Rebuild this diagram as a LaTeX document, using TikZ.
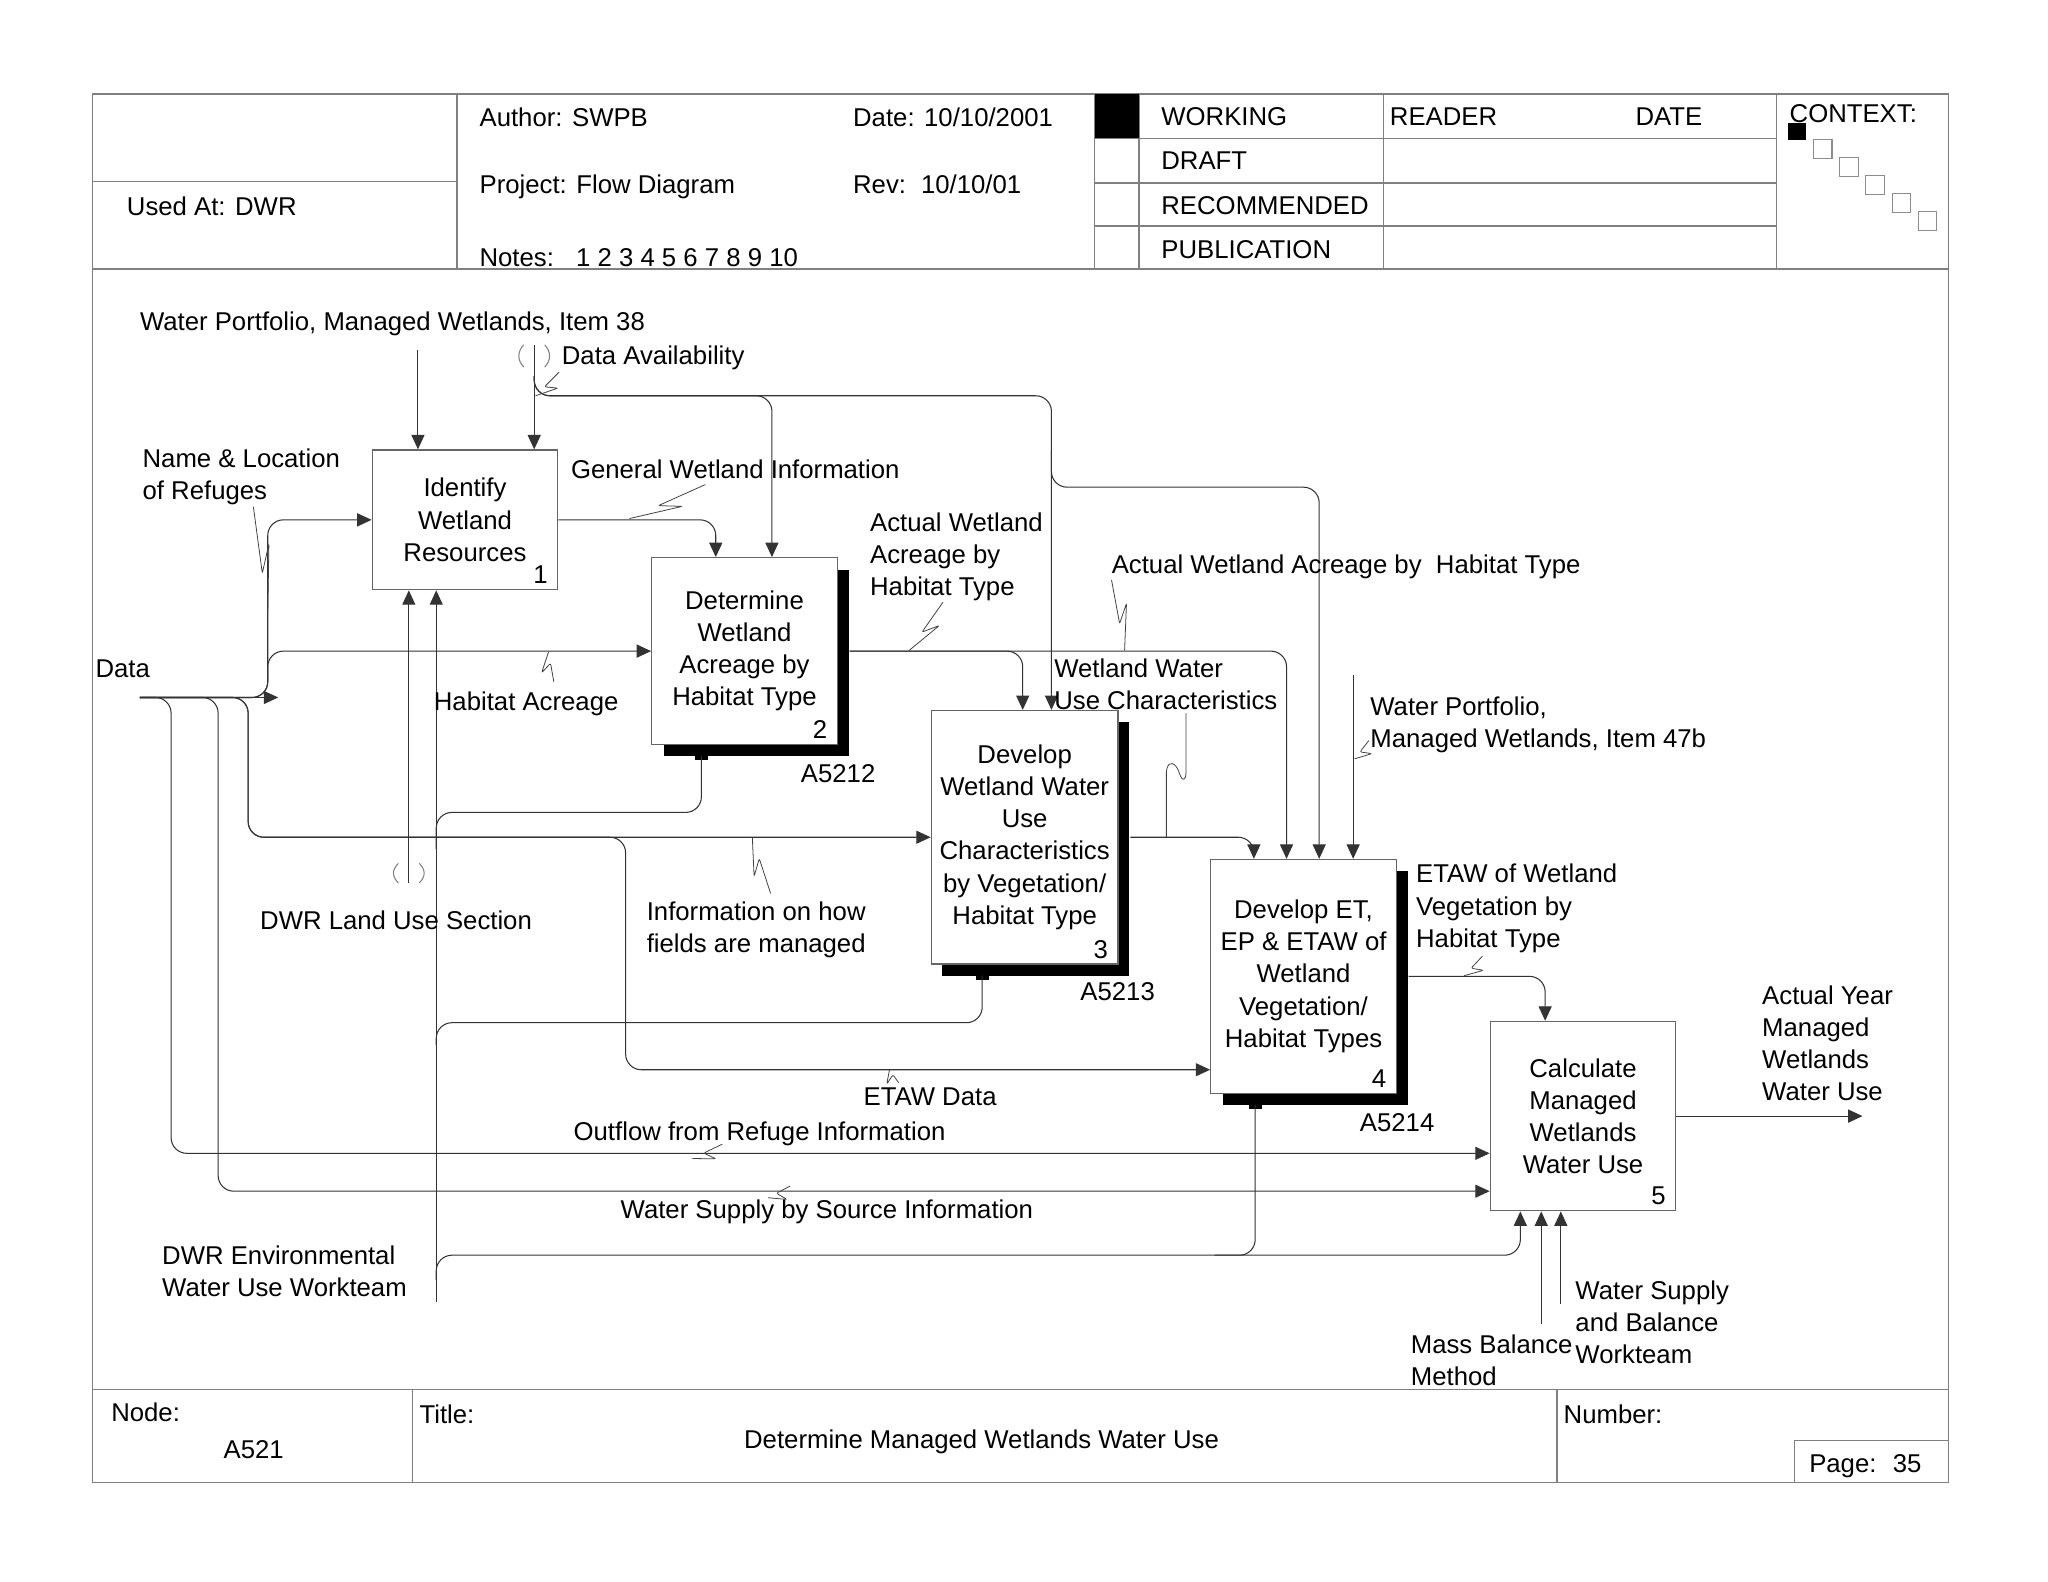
\documentclass[tikz,border=0pt]{standalone}
\usepackage{fontspec}
\setmainfont{Liberation Sans}
\usetikzlibrary{arrows.meta,calc}
\tikzset{
  every node/.style={font={\fontsize{19.7}{24.6}\selectfont}, inner sep=0pt},
  frm/.style={draw=black!50, line width=1pt},
  fn/.style={draw=black!60, line width=1pt, fill=white, minimum width=142pt, align=center},
  ln/.style={draw=black!80, line width=0.8pt, rounded corners=12pt},
  arr/.style={ln, -{Triangle[length=11pt,width=10pt]}},
  lb/.style={anchor=base west},
  ml/.style={anchor=north west, align=left},
  num/.style={anchor=base east},
  sq/.style={draw=black!75, line width=0.6pt, rounded corners=1.5pt},
  tun/.style={draw=black!50, line width=0.8pt},
  cbox/.style={draw=black!45, line width=0.8pt},
}
\newcommand\squig[2]{\draw[sq] (#1) -- ($(#1)!0.62!(#2)$) -- ($(#1)!0.36!(#2)!8pt!90:(#2)$) -- (#2);}
\begin{document}
\begin{tikzpicture}[x=1pt,y=-1pt]
\useasboundingbox (0,0) rectangle (1568,1211);
\fill[white] (0,0) rectangle (1568,1211);
% ---------- frame ----------
\draw[frm] (71,72) rectangle (1492,1135);
\draw[frm] (71,206) -- (1492,206);
\draw[frm] (71,139) -- (350,139);
\foreach \xx in {350,838,872,1059,1360} \draw[frm] (\xx,72) -- (\xx,206);
\foreach \yy in {106,140,173} \draw[frm] (838,\yy) -- (1360,\yy);
\fill (838,72) rectangle (872,106);
\fill (1368.8,94) rectangle (1383,107.4);
\foreach \i in {0,...,4} \draw[cbox] ({1388.6+20*\i},{107+13.7*\i}) rectangle ++(14,14.5);
\draw[frm] (71,1064) -- (1492,1064);
\draw[frm] (316,1064) -- (316,1135);
\draw[frm] (1192,1064) -- (1192,1135);
\draw[frm] (1374,1103) rectangle (1492,1135);
% header texts
\node[lb] (usedat) at (97,165) {Used At: DWR};
\node[lb] (author) at (367,97) {Author: SWPB};
\node[lb] (project) at (367,148) {Project: Flow Diagram};
\node[lb] (notes) at (367,204) {Notes:\hspace{17pt}1 2 3 4 5 6 7 8 9 10};
\node[lb] (date) at (653,97) {Date: 10/10/2001};
\node[lb] (rev) at (653,148) {Rev:\hspace{11.5pt}10/10/01};
\node[lb] (working) at (889,96) {WORKING};
\node[lb] (draft) at (889,130) {DRAFT};
\node[lb] (recom) at (889,164) {RECOMMENDED};
\node[lb] (publ) at (889,198) {PUBLICATION};
\node[lb] (reader) at (1064,96) {READER};
\node[lb] (rdate) at (1252,96) {DATE};
\node[lb] (context) at (1370,94) {CONTEXT:};
% footer texts
\node[lb] (nodel) at (85,1088) {Node:};
\node[lb] (nodev) at (171,1117) {A521};
\node[lb] (titlel) at (321,1090) {Title:};
\node[anchor=base] (titlev) at (751.5,1109) {Determine Managed Wetlands Water Use};
\node[lb] (numberl) at (1197,1090) {Number:};
\node[lb] (page) at (1385,1127) {Page:\hspace{12.5pt}35};
% ---------- shadows ----------
\fill (508,436.5) rectangle (650,579);
\fill (721.5,553) rectangle (864.5,747);
\fill (936,667) rectangle (1078,846);
\fill (532,579) rectangle (542,582);
\fill (747,747) rectangle (757,750);
\fill (956,846) rectangle (966,849);
% ---------- boxes ----------
\node[fn, minimum height=107pt] (b1) at (356,398) {Identify\\Wetland\\Resources};
\node[fn, minimum height=143pt] (b2) at (570,498.5) {Determine\\Wetland\\Acreage by\\Habitat Type};
\node[fn, minimum width=143pt, minimum height=194pt] (b3) at (784.5,641) {Develop\\Wetland Water\\Use\\Characteristics\\by Vegetation/\\Habitat Type};
\node[fn, minimum height=179pt] (b4) at (998,747.5) {Develop ET,\\EP \& ETAW of\\Wetland\\Vegetation/\\Habitat Types};
\node[fn, minimum height=145pt] (b5) at (1212,854.5) {Calculate\\Managed\\Wetlands\\Water Use};
\node[num] at ($(b1.south east)+(-8,-5)$) {1};
\node[num] at ($(b2.south east)+(-8,-5)$) {2};
\node[num] at ($(b3.south east)+(-8,-5)$) {3};
\node[num] at ($(b4.south east)+(-8,-5)$) {4};
\node[num] at ($(b5.south east)+(-8,-5)$) {5};
\node[lb] (r2) at (613,599) {A5212};
\node[lb] (r3) at (827,766) {A5213};
\node[lb] (r4) at (1041,866) {A5214};
% ---------- connectors ----------
\coordinate (wp38) at (320,268);
\draw[arr] (wp38) -- (wp38 |- b1.north);
\coordinate (da) at (409,264);
\draw[arr] (da) -- (da |- b1.north);
\coordinate (dab) at (409,288);
\draw[arr] (dab) |- (591,303) -- (591,0 |- b2.north);
\draw[arr] (dab) |- (805,303) -- (805,0 |- b3.north);
\draw[arr] (805,345) |- (1010,373) -- (1010,0 |- b4.north);
\draw[tun] (401,264) .. controls (396,269) and (396,276) .. (401,281);
\draw[tun] (417,264) .. controls (422,269) and (422,276) .. (417,281);
\draw[arr] (b1.east) -| (548,0 |- b2.north);
\coordinate (o2) at ($(b2.east)+(9,0)$);
\draw[arr] (o2) -| (783,0 |- b3.north);
\draw[arr] (o2) -| (985,0 |- b4.north);
\coordinate (o3) at ($(b3.east)+(9,0)$);
\draw[arr] (o3) -| (960,0 |- b4.north);
\coordinate (o4) at ($(b4.east)+(9,0)$);
\draw[arr] (o4) -| (1183,0 |- b5.north);
\coordinate (out5) at (1426,854.5);
\draw[arr] (b5.east) -- (out5 |- b5.east);
\coordinate (wp47) at (1036,517);
\draw[arr] (wp47) -- (wp47 |- b4.north);
% data inputs
\coordinate (din) at (107,534);
\draw[arr] (din) -- (213,534);
\draw[arr] (din) -| (205,398) -- (b1.west);
\draw[arr] (din) -| (205,498.5) -- (b2.west);
\draw[arr] (din) -| (131,883) -- (131,883 -| b5.west);
\draw[arr] (din) -| (167,912) -- (167,912 -| b5.west);
\draw[arr] (din) -| (190,641) -- (b3.west);
\draw[arr] (din) -| (190,641) -| (479,819) -- (479,819 -| b4.west);
% mechanisms
\coordinate (env) at (334,997);
\draw[arr] (env) -- (env |- b1.south);
\draw[ln] (334,650) |- (537,622) -- (537,579);
\draw[ln] (334,800) |- (752,783) -- (752,747);
\draw[arr] (334,980) |- (1164,961) -- (1164,0 |- b5.south);
\draw[ln] (961,846) |- (930,961);
\coordinate (lus) at (313,676);
\draw[arr] (lus) -- (lus |- b1.south);
\draw[tun] (305,661) .. controls (300,666) and (300,671) .. (305,676);
\draw[tun] (321,661) .. controls (326,666) and (326,671) .. (321,676);
\coordinate (mbm) at (1180,1014);
\draw[arr] (mbm) -- (mbm |- b5.south);
\coordinate (wsb) at (1195,998);
\draw[arr] (wsb) -- (wsb |- b5.south);
% ---------- labels ----------
\node[lb] (l1) at (107,253) {Water Portfolio, Managed Wetlands, Item 38};
\node[lb] (l2) at (430,279) {Data Availability};
\node[ml] (l3) at (109,343.5) {Name \& Location\\of Refuges};
\node[lb] (l4) at (437,366) {General Wetland Information};
\node[ml] (l5) at (666,392.5) {Actual Wetland\\Acreage by\\Habitat Type};
\node[lb] (l6) at (851,439) {Actual Wetland Acreage by\hspace{5.5pt} Habitat Type};
\node[lb] (l7) at (73,519) {Data};
\node[lb] (l8) at (332,544) {Habitat Acreage};
\node[ml] (l9) at (807,504.5) {Wetland Water\\Use Characteristics};
\node[ml] (l10) at (1049,533.5) {Water Portfolio,\\Managed Wetlands, Item 47b};
\node[lb] (l11) at (199,712) {DWR Land Use Section};
\node[ml] (l12) at (495,690.5) {Information on how\\fields are managed};
\node[ml] (l13) at (1084,661.5) {ETAW of Wetland\\Vegetation by\\Habitat Type};
\node[ml] (l14) at (1349,754.5) {Actual Year\\Managed\\Wetlands\\Water Use};
\node[lb] (l15) at (661,846) {ETAW Data};
\node[lb] (l16) at (439,873) {Outflow from Refuge Information};
\node[lb] (l17) at (475,933) {Water Supply by Source Information};
\node[ml] (l18) at (124,953.5) {DWR Environmental\\Water Use Workteam};
\node[ml] (l19) at (1206,980.5) {Water Supply\\and Balance\\Workteam};
\node[ml] (l20) at (1080,1021.5) {Mass Balance\\Method};
% ---------- squiggles ----------
\squig{428,285}{410,303}
\squig{194,388}{205,470}
\squig{540,371}{482,397}
\squig{424,522}{420,499}
\squig{722,461}{696,498}
\squig{851,444}{861,498}
\draw[sq] (893,641) -- (893,590) .. controls (895,582) and (900,584) .. (903,592) .. controls (905,598) and (908,598) .. (908,590) -- (908,546);
\squig{1048,567}{1037,581}
\squig{1135,732}{1121,747}
\squig{590,684}{576,641}
\squig{688,829}{681,819}
\squig{553,876}{530,887}
\squig{605,908}{588,917}
\end{tikzpicture}
\end{document}
